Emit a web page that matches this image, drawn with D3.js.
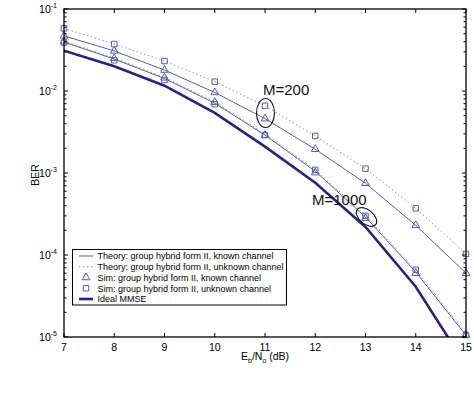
<!DOCTYPE html>
<html><head><meta charset="utf-8">
<script src="https://cdn.jsdelivr.net/npm/d3@7"></script>
<style>body{margin:0;background:#fff}svg{display:block}text{font-family:"Liberation Sans",Arial,sans-serif}</style>
</head><body>
<svg id="c" width="474" height="398"></svg>
<script>
const ebno = [7,8,9,10,11,12,13,14,15];
const theoryKnown200   = [0.047,0.0308,0.018,0.0096,0.0046,0.00195,0.00075,0.00023,0.00006];
const theoryUnknown200 = [0.058,0.0374,0.0232,0.013,0.0066,0.00283,0.00113,0.00037,0.000103];
const theoryKnown1000  = [0.0395,0.0245,0.0142,0.0071,0.0029,0.00105,0.00029,0.000062,0.0000105];
const theoryUnknown1000= [0.0405,0.0252,0.0147,0.0074,0.003,0.0011,0.000305,0.000066,0.000011];
const simKnown200   = [0.047,0.0308,0.018,0.0096,0.0046,0.00195,0.00075,0.00023,0.00006];
const simUnknown200 = [0.058,0.0374,0.0232,0.013,0.0066,0.00283,0.00113,0.00037,0.000103];
const simKnown1000  = [0.040,0.0250,0.0145,0.0073,0.0029,0.00101,0.00028,0.00006,0.0000106];
const simUnknown1000= [0.039,0.0237,0.0136,0.0069,0.0029,0.00109,0.0003,0.000066,0.0000106];
const idealMMSE = [0.031,0.020,0.0116,0.0054,0.0021,0.00076,0.00022,0.000041,0.0000045];
const xTicks = [7,8,9,10,11,12,13,14,15];
const yExps = [-1,-2,-3,-4,-5];
const legendLabels = ["Theory: group hybrid form II, known channel","Theory: group hybrid form II, unknown channel","Sim: group hybrid form II, known channel","Sim: group hybrid form II, unknown channel","Ideal MMSE"];

const L=64,R=466,T=9,B=337;
const svg=d3.select("#c");
const x=d3.scaleLinear().domain([7,15]).range([L,R]);
const y=d3.scaleLog().domain([1e-5,1e-1]).range([B,T]);
const cLine="#5f5aa6", cDot="#8f8bc4", cIdeal="#2a2180";

svg.append("defs").append("clipPath").attr("id","clip").append("rect").attr("x",L).attr("y",T).attr("width",R-L).attr("height",B-T);
const g=svg.append("g").attr("clip-path","url(#clip)");
const line=d3.line().x((d,i)=>x(ebno[i])).y(d=>y(d));
function path(data,color,w,dash){g.append("path").attr("d",line(data)).attr("fill","none").attr("stroke",color).attr("stroke-width",w).attr("stroke-dasharray",dash||null);}
path(theoryUnknown200,cDot,1,"1.5,2.5");
path(theoryUnknown1000,cDot,1,"1.5,2.5");
path(theoryKnown200,cLine,1);
path(theoryKnown1000,cLine,1);
path(idealMMSE,cIdeal,2.6);

const tri=d3.symbol().type(d3.symbolTriangle).size(26);
const sq=d3.symbol().type(d3.symbolSquare).size(30);
function marks(data,sym){svg.append("g").selectAll("path").data(data).join("path")
  .attr("d",sym).attr("transform",(d,i)=>`translate(${x(ebno[i])},${y(d)})`)
  .attr("fill","none").attr("stroke",cLine).attr("stroke-width",1);}
marks(simKnown200,tri);marks(simKnown1000,tri);
marks(simUnknown200,sq);marks(simUnknown1000,sq);

// box
svg.append("rect").attr("x",L).attr("y",T).attr("width",R-L).attr("height",B-T).attr("fill","none").attr("stroke","#000").attr("stroke-width",1.3);
// x ticks
xTicks.forEach(v=>{
  svg.append("line").attr("x1",x(v)).attr("x2",x(v)).attr("y1",B).attr("y2",B-4).attr("stroke","#000");
  svg.append("line").attr("x1",x(v)).attr("x2",x(v)).attr("y1",T).attr("y2",T+4).attr("stroke","#000");
  svg.append("text").attr("x",x(v)).attr("y",B+14).attr("text-anchor","middle").attr("font-size",10.5).text(v);
});
// y ticks
yExps.forEach(e=>{
  const v=Math.pow(10,e);
  svg.append("line").attr("x1",L).attr("x2",L+4).attr("y1",y(v)).attr("y2",y(v)).attr("stroke","#000");
  svg.append("line").attr("x1",R).attr("x2",R-4).attr("y1",y(v)).attr("y2",y(v)).attr("stroke","#000");
  const t=svg.append("text").attr("x",L-7).attr("y",y(v)+4).attr("text-anchor","end").attr("font-size",10.5);
  t.append("tspan").text("10");
  t.append("tspan").attr("dy",-5).attr("font-size",7).text(e);
  if(e<-1){for(let k=2;k<=9;k++){const mv=k*v;const yy=y(mv);
    svg.append("line").attr("x1",L).attr("x2",L+2.5).attr("y1",yy).attr("y2",yy).attr("stroke","#000");
    svg.append("line").attr("x1",R).attr("x2",R-2.5).attr("y1",yy).attr("y2",yy).attr("stroke","#000");}}
});
// axis labels
svg.append("text").attr("transform",`translate(39,175) rotate(-90)`).attr("text-anchor","middle").attr("font-size",10.5).text("BER");
const xl=svg.append("text").attr("x",265).attr("y",360).attr("text-anchor","middle").attr("font-size",10.5);
xl.append("tspan").text("E");xl.append("tspan").attr("dy",3).attr("font-size",7).text("b");
xl.append("tspan").attr("dy",-3).text("/N");xl.append("tspan").attr("dy",3).attr("font-size",7).text("o");
xl.append("tspan").attr("dy",-3).text(" (dB)");

// annotations
svg.append("text").attr("x",263).attr("y",95).attr("font-size",15).attr("fill","#111").text("M=200");
svg.append("ellipse").attr("cx",265.5).attr("cy",113).attr("rx",9).attr("ry",14.5).attr("fill","none").attr("stroke","#111").attr("stroke-width",1.1);
svg.append("text").attr("x",312).attr("y",205).attr("font-size",15).attr("fill","#111").text("M=1000");
svg.append("ellipse").attr("cx",366.5).attr("cy",217).attr("rx",12).attr("ry",7).attr("transform","rotate(40,366.5,217)").attr("fill","none").attr("stroke","#111").attr("stroke-width",1.1);

// legend
const lg=svg.append("g");
lg.append("rect").attr("x",72.5).attr("y",249.5).attr("width",214).attr("height",55.5).attr("fill","#fff").attr("stroke","#000").attr("stroke-width",1);
legendLabels.forEach((s,i)=>{
  const yy=256+i*10.75;
  if(i===0) lg.append("line").attr("x1",79).attr("x2",93).attr("y1",yy).attr("y2",yy).attr("stroke",cLine);
  if(i===1) lg.append("line").attr("x1",79).attr("x2",93).attr("y1",yy).attr("y2",yy).attr("stroke",cDot).attr("stroke-dasharray","1.5,2.5");
  if(i===2) lg.append("path").attr("d",tri).attr("transform",`translate(86,${yy})`).attr("fill","none").attr("stroke",cLine);
  if(i===3) lg.append("path").attr("d",sq).attr("transform",`translate(86,${yy})`).attr("fill","none").attr("stroke",cLine);
  if(i===4) lg.append("line").attr("x1",79).attr("x2",93).attr("y1",yy).attr("y2",yy).attr("stroke",cIdeal).attr("stroke-width",2.6);
  lg.append("text").attr("x",97.5).attr("y",yy+3.3).attr("font-size",9).text(s);
});
</script>
</body></html>
